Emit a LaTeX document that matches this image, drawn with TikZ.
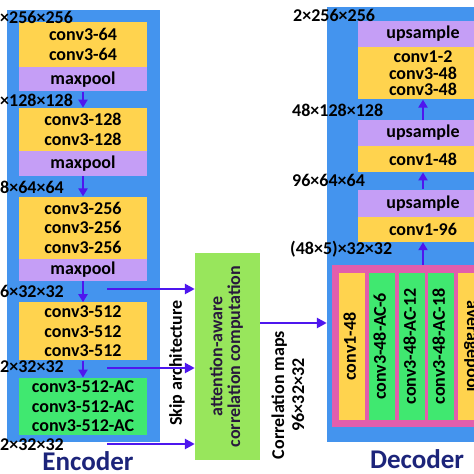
\documentclass[tikz,border=0pt]{standalone}
\usepackage{fontspec}
\setmainfont{Carlito}
\usepackage{xcolor}
\definecolor{netblue}{RGB}{68,148,238}
\definecolor{convyellow}{RGB}{255,211,78}
\definecolor{poolpurple}{RGB}{197,158,246}
\definecolor{acgreen}{RGB}{64,232,112}
\definecolor{attgreen}{RGB}{152,230,92}
\definecolor{asppink}{RGB}{226,94,172}
\definecolor{flowviolet}{RGB}{78,22,238}
\definecolor{titlenavy}{RGB}{28,36,122}
\usetikzlibrary{arrows.meta, positioning}
\newcommand{\vlabel}[2][90]{\rotatebox{#1}{\begin{tabular}{@{}c@{}}#2\end{tabular}}}

\begin{document}
\begin{tikzpicture}[
    x=1pt, y=-1pt,
    font=\fontsize{18}{19.5}\selectfont\bfseries,
    panel/.style={rectangle, fill=netblue, inner sep=0pt},
    layer/.style={rectangle, inner sep=0pt, align=center, text=black},
    enclayer/.style={layer, minimum width=128pt},
    declayer/.style={layer, minimum width=130pt},
    column/.style={layer, minimum width=26pt, minimum height=147pt},
    dim/.style={anchor=west, inner sep=0pt, text=black},
    title/.style={inner sep=0pt, font=\fontsize{27}{30}\selectfont\bfseries, text=titlenavy},
    flow/.style={-{Triangle[length=10pt,width=10pt]}, line width=2.6pt, flowviolet},
    hop/.style={-{Triangle[length=8pt,width=9pt]}, line width=2.4pt, flowviolet}
]
\useasboundingbox (0,0) rectangle (474,474);

% Panels
\node (enc) [panel, minimum width=153pt, minimum height=432pt] at (83.5,226) {};
\node (dec) [panel, minimum width=203pt, minimum height=435pt] at (428.5,224.5) {};

% Encoder
\node (c1) [enclayer, fill=convyellow, minimum height=45pt] at (83,44.5) {conv3-64\\conv3-64};
\node (mp1) [enclayer, fill=poolpurple, minimum height=24pt, below=0pt of c1] {maxpool};
\node (c2) [enclayer, fill=convyellow, minimum height=43pt, below=16pt of mp1] {conv3-128\\conv3-128};
\node (mp2) [enclayer, fill=poolpurple, minimum height=25pt, below=0pt of c2] {maxpool};
\node (c3) [enclayer, fill=convyellow, minimum height=62pt, below=20pt of mp2] {conv3-256\\conv3-256\\conv3-256};
\node (mp3) [enclayer, fill=poolpurple, minimum height=22pt, below=0pt of c3] {maxpool};
\node (c4) [enclayer, fill=convyellow, minimum height=58pt, below=21pt of mp3] {conv3-512\\conv3-512\\conv3-512};
\node (ac) [enclayer, fill=acgreen, minimum height=57pt, below=17pt of c4] {conv3-512-AC\\conv3-512-AC\\conv3-512-AC};

\node (e0) [dim] at (0,17) {×256×256};
\node (e1) [dim] at (0,100) {×128×128};
\node (e2) [dim] at (0,187) {8×64×64};
\node (e3) [dim] at (0,291) {6×32×32};
\node (e4) [dim] at (0,367) {2×32×32};
\node (e5) [dim] at (0,445) {2×32×32};
\node (enctitle) [title] at (88,461) {Encoder};

% Middle
\node (skip) at (178,363) {\vlabel{Skip architecture}};
\node (att) [layer, fill=attgreen, minimum width=65pt, minimum height=207pt, text={rgb,255:red,40;green,25;blue,60},
    font=\fontsize{18}{17.5}\selectfont\bfseries] at (227.5,356.5) {\vlabel{attention-aware\\correlation computation}};
\node (corrtxt) [font=\fontsize{18}{20}\selectfont\bfseries] at (290,395) {\vlabel{Correlation maps\\96×32×32}};

% Decoder
\node (up1) [declayer, fill=poolpurple, minimum height=26pt] at (423,34) {upsample};
\node (dc1) [declayer, fill=convyellow, minimum height=52pt, below=0pt of up1,
    font=\fontsize{18}{16.5}\selectfont\bfseries] {conv1-2\\conv3-48\\conv3-48};
\node (up2) [declayer, fill=poolpurple, minimum height=26pt, below=20pt of dc1] {upsample};
\node (dc2) [declayer, fill=convyellow, minimum height=26pt, below=0pt of up2] {conv1-48};
\node (up3) [declayer, fill=poolpurple, minimum height=27pt, below=17pt of dc2] {upsample};
\node (dc3) [declayer, fill=convyellow, minimum height=25pt, below=0pt of up3] {conv1-96};

\node (pk) [rectangle, fill=asppink, minimum width=188pt, minimum height=162pt, inner sep=0pt] at (426,346) {};
\node (col1) [column, fill=convyellow] at (352,346.5) {\vlabel{conv1-48}};
\node (col2) [column, fill=acgreen] at (382,346.5) {\vlabel{conv3-48-AC-6}};
\node (col3) [column, fill=acgreen] at (412,346.5) {\vlabel{conv3-48-AC-12}};
\node (col4) [column, fill=acgreen] at (441,346.5) {\vlabel{conv3-48-AC-18}};
\node (col5) [column, fill=convyellow] at (471,346.5) {\vlabel[-90]{averagepool}};

\node (d0) [dim] at (293,15) {2×256×256};
\node (d1) [dim] at (292,110) {48×128×128};
\node (d2) [dim] at (292,180) {96×64×64};
\node (d3) [dim] at (290,249) {(48×5)×32×32};
\node (dectitle) [title] at (417,459) {Decoder};

% Arrows
\draw [hop] (mp1) -- (c2);
\draw [hop] (mp2) -- (c3);
\draw [hop] (mp3) -- (c4);
\draw [hop] (c4) -- (ac);

\coordinate (s1) at (107,289);
\coordinate (s2) at (107,368);
\coordinate (s3) at (107,444);
\draw [flow] (s1) -- (s1 -| att.west);
\draw [flow] (s2) -- (s2 -| att.west);
\draw [flow] (s3) -- (s3 -| att.west);

\coordinate (corr) at (260,323);
\draw [flow] (corr) -- (corr -| dec.west);

\draw [hop] (pk.north -| dc3.south) -- (dc3.south);
\draw [hop] (up3) -- (dc2);
\draw [hop] (up2) -- (dc1);

\end{tikzpicture}
\end{document}
